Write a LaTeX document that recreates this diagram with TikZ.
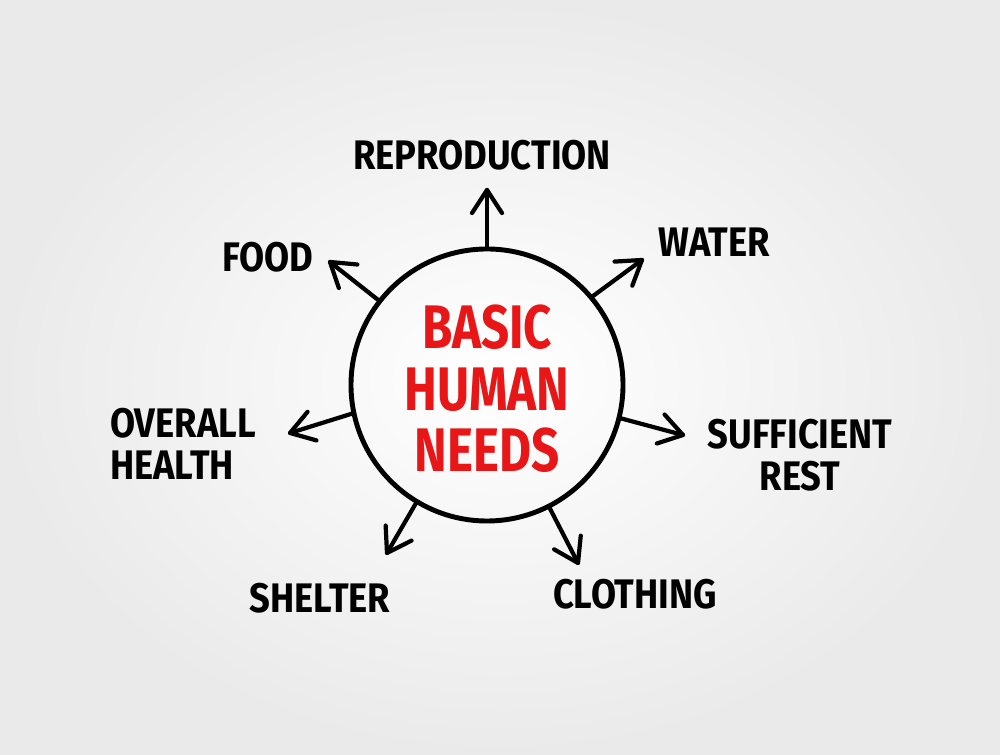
\documentclass[tikz,border=0pt]{standalone}
\usepackage{fontspec}
\setmainfont{Fira Sans}
\newfontfamily\needfont{Fira Sans}[FakeStretch=0.88]
\newfontfamily\titlefont{Fira Sans}[FakeStretch=0.8]
\usepackage{tikz}
\usetikzlibrary{calc}
\definecolor{needred}{RGB}{232,22,22}
\definecolor{bgedge}{RGB}{234,234,234}
\newcommand{\needarrow}[2]{%
  \draw[arr] (#1) -- (#2);
  \draw[arr] ($(#2)!5.5mm!-33:(#1)$) -- (#2) -- ($(#2)!5.5mm!33:(#1)$);}

\begin{document}
\begin{tikzpicture}
\tikzset{
  need/.style={font=\needfont\bfseries\fontsize{23.5}{24}\selectfont, text=black, align=center, inner sep=0pt},
  arr/.style={line width=2.4pt, line cap=round, line join=round}
}
\shade[inner color=white, outer color=bgedge] (0,0) rectangle (20,15.1);
\useasboundingbox (0,0) rectangle (20,15.1);

\node[shape = circle, draw=black, line width=2.8pt, minimum size=5.44cm](hub) at (9.74,7.4) {};
\node[font=\titlefont\bfseries\fontsize{35}{35}\selectfont, text=needred, align=center, inner sep=0pt](title) at (9.74,7.32) {BASIC\\HUMAN\\NEEDS};

\node[need](repro) at (9.64,12.0) {REPRODUCTION};
\node[need](water) at (14.28,10.26) {WATER};
\node[need](food) at (5.36,9.96) {FOOD};
\node[need, align=left](health) at (3.66,6.22) {OVERALL\\HEALTH};
\node[need](rest) at (16.0,6.0) {SUFFICIENT\\REST};
\node[need](clothing) at (12.7,3.22) {CLOTHING};
\node[need](shelter) at (6.4,3.14) {SHELTER};

\coordinate (toRepro) at (9.74,11.3);
\coordinate (toWater) at (12.84,9.9);
\coordinate (toFood) at (6.6,9.86);
\coordinate (toHealth) at (5.8,6.44);
\coordinate (toRest) at (13.66,6.4);
\coordinate (toClothing) at (11.56,3.84);
\coordinate (toShelter) at (7.74,4.04);

\needarrow{hub.90}{toRepro}
\needarrow{hub.40}{toWater}
\needarrow{hub.142}{toFood}
\needarrow{hub.192}{toHealth}
\needarrow{hub.-14}{toRest}
\needarrow{hub.-63}{toClothing}
\needarrow{hub.239.5}{toShelter}
\end{tikzpicture}
\end{document}
